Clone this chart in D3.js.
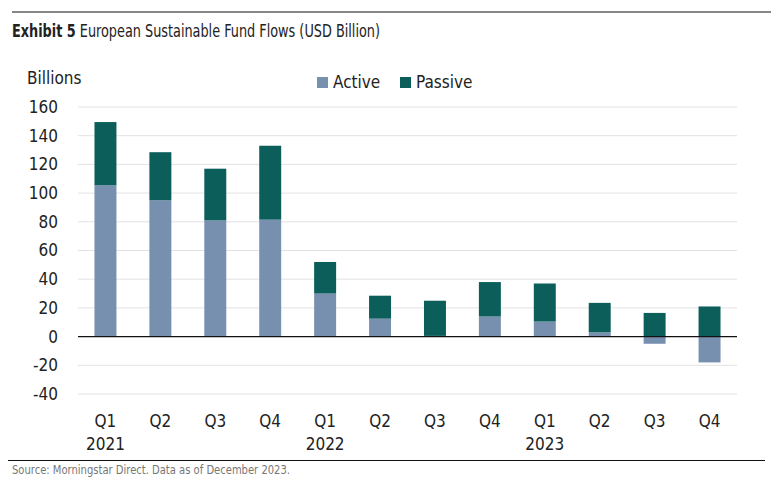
<!DOCTYPE html>
<html>
<head>
<meta charset="utf-8">
<script src="https://cdn.jsdelivr.net/npm/d3@7"></script>
<style>
	body { margin: 0; background: #fff; }
	svg text { font-family: "DejaVu Sans Condensed", "DejaVu Sans", sans-serif; font-stretch: condensed; }
</style>
</head>
<body>
<div id="viz-container"></div>
<script>
var quarters = ['Q1', 'Q2', 'Q3', 'Q4', 'Q1', 'Q2', 'Q3', 'Q4', 'Q1', 'Q2', 'Q3', 'Q4'];
var years = ['2021', '', '', '', '2022', '', '', '', '2023', '', '', ''];
var active = [105.5, 95, 81, 81.5, 30, 12.5, 0.5, 14, 10.5, 3, -5, -18];
var passive = [44, 33.5, 36, 51.5, 22, 16, 24.5, 24, 26.5, 20.5, 16.5, 21];
var yTicks = [-40, -20, 0, 20, 40, 60, 80, 100, 120, 140, 160];
var seriesNames = ['Active', 'Passive'];
var colors = ['#7890b0', '#0b5e5a'];

var width = 783,
	height = 482,
	plot = {left: 78, right: 737, top: 107, bottom: 394};

var svg = d3.select('#viz-container')
	.append('svg')
	.attr('width', width)
	.attr('height', height);

// rules + title
svg.append('line')
	.attr('x1', 12).attr('x2', 771).attr('y1', 12).attr('y2', 12)
	.style('stroke', '#111').style('stroke-width', 1.2);

var title = svg.append('text')
	.attr('x', 12).attr('y', 37)
	.attr('textLength', 368)
	.attr('lengthAdjust', 'spacingAndGlyphs')
	.style('font-size', '17px').style('fill', '#222');
title.append('tspan').style('font-weight', 'bold').text('Exhibit 5');
title.append('tspan').text(' European Sustainable Fund Flows (USD Billion)');

svg.append('line')
	.attr('x1', 8).attr('x2', 765).attr('y1', 460.5).attr('y2', 460.5)
	.style('stroke', '#111').style('stroke-width', 1.2);

svg.append('text')
	.attr('x', 12).attr('y', 474)
	.attr('textLength', 278)
	.attr('lengthAdjust', 'spacingAndGlyphs')
	.style('font-size', '12.5px').style('fill', '#777')
	.text('Source: Morningstar Direct. Data as of December 2023.');

var x = d3.scaleBand()
	.domain(d3.range(quarters.length))
	.range([plot.left, plot.right])
	.paddingInner(0.6)
	.paddingOuter(0.3);

var y = d3.scaleLinear()
	.domain([-40, 160])
	.range([plot.bottom, plot.top]);

// grid
svg.append('g').selectAll('line')
	.data(yTicks.filter(function(d){ return d !== 0; }))
	.enter()
	.append('line')
	.attr('x1', plot.left).attr('x2', plot.right)
	.attr('y1', function(d){ return y(d); })
	.attr('y2', function(d){ return y(d); })
	.style('stroke', '#e2e2e2')
	.style('stroke-width', 1);

// y labels
svg.append('g').selectAll('text')
	.data(yTicks)
	.enter()
	.append('text')
	.attr('x', 58)
	.attr('y', function(d){ return y(d); })
	.attr('dy', '0.35em')
	.attr('text-anchor', 'end')
	.style('font-size', '17px').style('fill', '#222')
	.text(function(d){ return d; });

svg.append('text')
	.attr('x', 27).attr('y', 84)
	.style('font-size', '17px').style('fill', '#222')
	.text('Billions');

// bars
var bw = x.bandwidth();
svg.append('g').selectAll('rect')
	.data(active)
	.enter()
	.append('rect')
	.attr('x', function(d, i){ return x(i); })
	.attr('width', bw)
	.attr('y', function(d){ return y(Math.max(0, d)); })
	.attr('height', function(d){ return Math.abs(y(d) - y(0)); })
	.attr('fill', colors[0]);

svg.append('g').selectAll('rect')
	.data(passive)
	.enter()
	.append('rect')
	.attr('x', function(d, i){ return x(i); })
	.attr('width', bw)
	.attr('y', function(d, i){ return y(Math.max(0, active[i]) + d); })
	.attr('height', function(d){ return y(0) - y(d); })
	.attr('fill', colors[1]);

// zero line
svg.append('line')
	.attr('x1', plot.left).attr('x2', plot.right)
	.attr('y1', y(0)).attr('y2', y(0))
	.style('stroke', '#111').style('stroke-width', 1.2);

// x labels
var xl = svg.append('g').selectAll('g')
	.data(quarters)
	.enter()
	.append('g')
	.attr('transform', function(d, i){ return 'translate(' + (x(i) + bw / 2) + ',0)'; });
xl.append('text')
	.attr('y', 427)
	.attr('text-anchor', 'middle')
	.style('font-size', '17px').style('fill', '#222')
	.text(function(d){ return d; });
xl.append('text')
	.attr('y', 450)
	.attr('text-anchor', 'middle')
	.style('font-size', '17px').style('fill', '#222')
	.text(function(d, i){ return years[i]; });

// legend
var legend = svg.append('g').selectAll('g')
	.data(seriesNames)
	.enter()
	.append('g')
	.attr('transform', function(d, i){ return 'translate(' + [317, 400][i] + ',77)'; });
legend.append('rect')
	.attr('width', 11).attr('height', 11)
	.attr('fill', function(d, i){ return colors[i]; });
legend.append('text')
	.attr('x', 16).attr('y', 11)
	.style('font-size', '17px').style('fill', '#222')
	.text(function(d){ return d; });
</script>
</body>
</html>
